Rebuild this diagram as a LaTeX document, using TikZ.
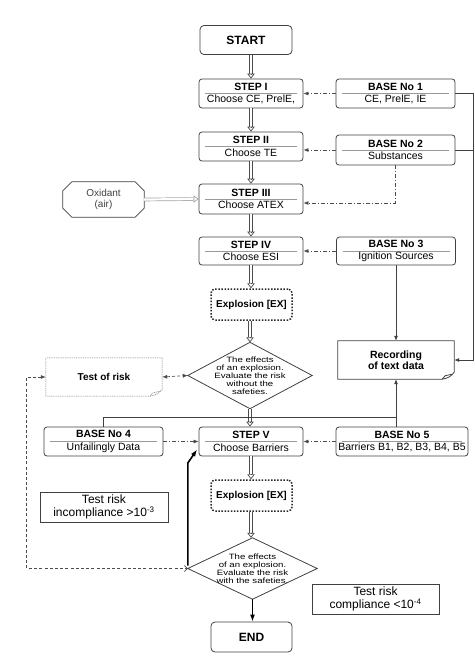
\documentclass[tikz,border=0pt]{standalone}
\usepackage{fontspec}
\setmainfont{Liberation Sans}
\newfontfamily\widefont[FakeStretch=1.25]{Liberation Sans}
\usetikzlibrary{arrows.meta,calc}
\newcommand\dblar[3][]{%
  \coordinate (dA) at (#2); \coordinate (dB) at (#3);
  \draw[dblline,#1,shorten >=5pt] (dA) -- (dB);
  \draw[dbltip,#1] ($(dB)!5pt!(dA)$) -- (dB);}
\newcommand\curlbox[2]{%
  \draw[#2] (#1.south west) -- (#1.north west) -- (#1.north east) -- ([yshift=7pt]#1.south east)
    .. controls ([xshift=-3pt,yshift=3pt]#1.south east) and ([xshift=-6pt,yshift=1pt]#1.south east) .. ([xshift=-12pt]#1.south east) -- cycle;
  \draw[#2] ([xshift=-12pt]#1.south east) -- ([xshift=-9pt,yshift=3.5pt]#1.south east) -- ([xshift=-2pt,yshift=5pt]#1.south east);}
\begin{document}
\begin{tikzpicture}[x=1pt,y=-1pt,
  every node/.style={inner sep=0pt, align=center},
  ln/.style={draw=black!75, line width=0.8pt},
  stepbox/.style={ln, rounded corners=3pt, minimum width=104pt, minimum height=29pt,
    font=\fontsize{10.5}{12.5}\selectfont,
    path picture={\draw[black!40,line width=0.6pt] ([xshift=6pt]path picture bounding box.west) -- ([xshift=-6pt]path picture bounding box.east);}},
  termbox/.style={ln, rounded corners=4pt, minimum height=29pt, font=\fontsize{12}{14}\selectfont\bfseries},
  exbox/.style={draw=black!85, line width=1.5pt, dash pattern=on 1.5pt off 1.6pt, rounded corners=4pt,
    minimum width=81pt, minimum height=31pt, font=\fontsize{10}{12}\selectfont\bfseries},
  plainbox/.style={ln, minimum height=30pt, font=\fontsize{12}{13.5}\selectfont},
  dtext/.style={minimum width=124pt, minimum height=66pt, font=\widefont\fontsize{7.7}{8}\selectfont},
  dblline/.style={double=white, double distance=2.2pt, line width=0.7pt, draw=black!70},
  dbltip/.style={-{Triangle[open,length=5pt,width=7.5pt]}, line width=0.7pt, draw=black!70},
  dashdot/.style={draw=black!70, line width=0.7pt, dash pattern=on 4pt off 2pt on 1pt off 2pt,
    -{Latex[length=5pt,width=4pt]}},
  solidar/.style={ln, -{Latex[length=5pt,width=4pt]}},
  dsh/.style={draw=black!70, line width=0.7pt, dash pattern=on 3pt off 2.2pt}
]
\useasboundingbox (0,0) rectangle (474,664);

% main column
\node[termbox, minimum width=92pt] (start) at (246,40) {START};
\node[stepbox] (s1) at (251,93.5) {\textbf{STEP I}\\Choose CE, PrelE,};
\node[stepbox] (s2) at (251,146.5) {\textbf{STEP II}\\Choose TE};
\node[stepbox, minimum height=30pt] (s3) at (251,199) {\textbf{STEP III}\\Choose ATEX};
\node[stepbox, minimum height=28pt] (s4) at (251,251) {\textbf{STEP IV}\\Choose ESI};
\node[exbox] (ex1) at (251.5,304.5) {Explosion [EX]};
\node[dtext] (d1) at (250,375.5) {The effects\\of an explosion.\\Evaluate the risk\\without the\\safeties.};
\draw[ln] (d1.north) -- (d1.east) -- (d1.south) -- (d1.west) -- cycle;
\node[stepbox] (s5) at (251,441.5) {\textbf{STEP V}\\Choose Barriers};
\node[exbox] (ex2) at (251.5,495.5) {Explosion [EX]};
\node[dtext, minimum width=129pt, minimum height=61pt] (d2) at (252.5,568.5) {The effects\\of an explosion.\\Evaluate the risk\\with the safeties.};
\draw[ln] (d2.north) -- (d2.east) -- (d2.south) -- (d2.west) -- cycle;
\node[termbox, minimum width=81pt, minimum height=30pt] (end) at (251.5,637) {END};

% bases
\node[stepbox, minimum width=119pt] (b1) at (395.5,93.5) {\textbf{BASE No 1}\\CE, PrelE, IE};
\node[stepbox, minimum width=119pt, minimum height=30pt] (b2) at (395.5,150) {\textbf{BASE No 2}\\Substances};
\node[stepbox, minimum width=119pt, minimum height=28pt] (b3) at (396,251) {\textbf{BASE No 3}\\Ignition Sources};
\node[stepbox, minimum width=119pt] (b4) at (103.5,441.5) {\textbf{BASE No 4}\\Unfailingly Data};
\node[stepbox, minimum width=132pt] (b5) at (402,441.5) {\textbf{BASE No 5}\\Barriers B1, B2, B3, B4, B5};

% oxidant
\node[minimum width=81pt, minimum height=35pt, text=black!75, font=\fontsize{10}{11.5}\selectfont] (ox) at (103.5,199.5) {Oxidant\\(air)};
\draw[ln] ([xshift=9pt]ox.north west) -- ([xshift=-9pt]ox.north east) -- ([yshift=-9pt]ox.north east)
  -- ([yshift=9pt]ox.south east) -- ([xshift=-9pt]ox.south east) -- ([xshift=9pt]ox.south west)
  -- ([yshift=9pt]ox.south west) -- ([yshift=-9pt]ox.north west) -- cycle;

% recording & test of risk
\node[minimum width=116pt, minimum height=38pt, font=\fontsize{10.5}{11.5}\selectfont\bfseries] (rec) at (396,360) {Recording\\of text data};
\curlbox{rec}{ln}
\node[minimum width=116pt, minimum height=38pt, font=\fontsize{10}{12}\selectfont\bfseries] (tr) at (104,377) {Test of risk};
\curlbox{tr}{draw=black!55, line width=0.5pt, dash pattern=on 1pt off 0.8pt}

% test risk boxes
\node[plainbox, minimum width=128pt] (ti) at (104,507) {Test risk\\incompliance >10\textsuperscript{-3}};
\node[plainbox, minimum width=127pt] (tc) at (375.5,599) {Test risk\\compliance <10\textsuperscript{-4}};

% double arrows
\dblar{start.south -| s1.north}{s1.north}
\dblar{s1.south}{s2.north}
\dblar{s2.south}{s3.north}
\dblar{s3.south}{s4.north}
\dblar{s4.south}{ex1.north -| s4.south}
\dblar{ex1.south -| d1.north}{d1.north}
\dblar{d1.south}{s5.north -| d1.south}
\dblar{s5.south}{ex2.north -| s5.south}
\dblar{ex2.south -| s5.south}{d2.north -| s5.south}
\dblar[draw=black!35]{ox.east}{s3.west}

% dash-dot from bases
\draw[dashdot] (b1.west) -- (s1.east);
\draw[dashdot] (b2.west) -- (b2.west -| s2.east);
\draw[dashdot] (b2.south) |- ([yshift=-4pt]s3.east);
\draw[dashdot] (b3.west) -- (s4.east);
\draw[dashdot] (b4.east) -- (s5.west);
\draw[dashdot] (b5.west) -- (s5.east);

% right side solid connectors
\coordinate (rx) at (473,0);
\coordinate (hy) at (0,417);
\draw[solidar] (b1.east) -- (b1.east -| rx) -- (rx |- rec.east) -- (rec.east);
\draw[ln] (b2.east) -- (b2.east -| rx);
\draw[solidar] (b3.south -| rec.north) -- (rec.north);
\draw[solidar] (rec.south |- b5.north) -- (rec.south);
\draw[ln] (b4.north) -- (b4.north |- hy) -- (rec.south |- hy);

% test of risk dashed
\draw[dsh, {Latex[length=5pt,width=4pt]}-{Latex[length=5pt,width=4pt]}] (tr.east) -- (d1.west);
\draw[dsh, {Latex[length=5pt,width=4pt]}-{Straight Barb[length=3pt,width=6pt]}] (tr.west) -- ++(-19,0) |- (d2.west);

% thick arrows
\coordinate (tk) at ([yshift=3pt]d2.west);
\draw[line width=1.6pt, -{Latex[length=7pt,width=5pt]}] (tk) -- (tk |- 0,463) -- ([xshift=-1.5pt,yshift=-8pt]s5.west);
\draw[line width=1.6pt, -{Latex[length=7pt,width=5pt]}] (d2.south) -- (d2.south |- end.north);
\end{tikzpicture}
\end{document}
